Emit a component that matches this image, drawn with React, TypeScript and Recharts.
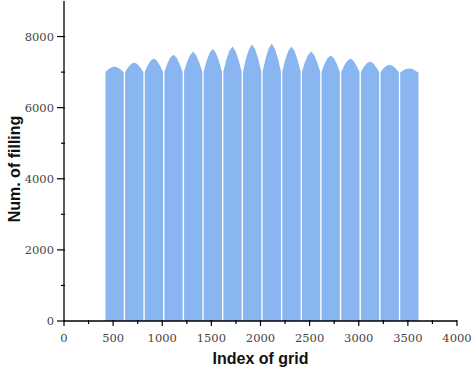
import { Area, AreaChart, XAxis, YAxis } from "recharts";

document.body.style.margin = "0";

// each group of grids: start index, and the filling counts along the group
const groupStarts = [422, 622, 822, 1022, 1222, 1422, 1622, 1822, 2022, 2222, 2422, 2622, 2822, 3022, 3222, 3422];
const profileOffsets = [0, 31, 62, 93, 124, 155, 186];

const g1 = [7000, 7080, 7135, 7155, 7130, 7075, 6995];
const g2 = [7005, 7140, 7230, 7267, 7225, 7130, 7000];
const g3 = [7010, 7200, 7330, 7380, 7320, 7180, 7000];
const g4 = [7010, 7250, 7420, 7490, 7410, 7230, 7005];
const g5 = [7015, 7290, 7480, 7577, 7470, 7270, 7010];
const g6 = [7015, 7330, 7550, 7660, 7540, 7310, 7010];
const g7 = [7020, 7360, 7600, 7718, 7590, 7340, 7015];
const g8 = [7020, 7390, 7650, 7775, 7640, 7370, 7015];
const g9 = [7020, 7400, 7670, 7800, 7660, 7390, 7020];
const g10 = [7015, 7360, 7600, 7718, 7600, 7350, 7015];
const g11 = [7010, 7290, 7480, 7577, 7480, 7280, 7010];
const g12 = [7010, 7240, 7400, 7465, 7400, 7230, 7005];
const g13 = [7005, 7190, 7320, 7380, 7320, 7180, 7000];
const g14 = [7000, 7150, 7255, 7300, 7250, 7140, 6995];
const g15 = [7000, 7110, 7180, 7210, 7175, 7100, 6995];
const g16 = [6990, 7050, 7090, 7100, 7085, 7040, 6985];
const groupHeights = [g1, g2, g3, g4, g5, g6, g7, g8, g9, g10, g11, g12, g13, g14, g15, g16];

const xTicks = [0, 250, 500, 750, 1000, 1250, 1500, 1750, 2000, 2250, 2500, 2750, 3000, 3250, 3500, 3750, 4000];
const xLabels = ["0", "500", "1000", "1500", "2000", "2500", "3000", "3500", "4000"];
const yTicks = [0, 1000, 2000, 3000, 4000, 5000, 6000, 7000, 8000];
const yLabels = ["0", "2000", "4000", "6000", "8000"];

const rows: { x: number; y: number }[] = [];
groupStarts.forEach((start, i) => {
  rows.push({ x: start, y: 0 });
  profileOffsets.forEach((off, k) => rows.push({ x: start + off, y: groupHeights[i][k] }));
  rows.push({ x: start + profileOffsets[profileOffsets.length - 1], y: 0 });
});

const tickStyle = { fontFamily: "'DejaVu Serif', serif", fontSize: 11.5, fill: "#444" };
const titleStyle = { fontFamily: "'Liberation Sans', Arial, sans-serif", fontWeight: 700, fontSize: 16, fill: "#111" };

function XTick({ x, y, payload }: any) {
  const label = String(payload.value);
  const major = xLabels.includes(label);
  return (
    <g>
      <line x1={x} x2={x} y1={y - 1} y2={y + (major ? 5 : 3)} stroke="#000" strokeWidth={1.2} />
      {major && (
        <text x={x} y={y + 21} textAnchor="middle" style={tickStyle}>
          {label}
        </text>
      )}
    </g>
  );
}

function YTick({ x, y, payload }: any) {
  const label = String(payload.value);
  const major = yLabels.includes(label);
  return (
    <g>
      <line x1={x - (major ? 7 : 3)} x2={x + 1} y1={y} y2={y} stroke="#000" strokeWidth={1.2} />
      {major && (
        <text x={x - 10} y={y + 4.2} textAnchor="end" style={tickStyle}>
          {label}
        </text>
      )}
    </g>
  );
}

export default function App() {
  return (
    <AreaChart width={474} height={372} data={rows} margin={{ top: 1, right: 17, left: 0, bottom: 0 }}>
      <XAxis
        dataKey="x"
        type="number"
        domain={[0, 4000]}
        ticks={xTicks}
        interval={0}
        height={51}
        tickSize={0}
        tickMargin={0}
        tickLine={false}
        tick={<XTick />}
        axisLine={{ stroke: "#000", strokeWidth: 1.3 }}
        label={{ value: "Index of grid", position: "insideBottom", offset: 8, style: titleStyle }}
      />
      <YAxis
        type="number"
        domain={[0, 9000]}
        ticks={yTicks}
        interval={0}
        width={64}
        tickSize={0}
        tickMargin={0}
        tickLine={false}
        tick={<YTick />}
        axisLine={{ stroke: "#000", strokeWidth: 1.3 }}
        label={{
          value: "Num. of filling",
          angle: -90,
          position: "insideLeft",
          offset: 14,
          dy: 8,
          style: { ...titleStyle, textAnchor: "middle" }
        }}
      />
      <Area
        type="linear"
        dataKey="y"
        stroke="none"
        fill="#89b6f1"
        fillOpacity={1}
        dot={false}
        activeDot={false}
        isAnimationActive={false}
      />
    </AreaChart>
  );
}
